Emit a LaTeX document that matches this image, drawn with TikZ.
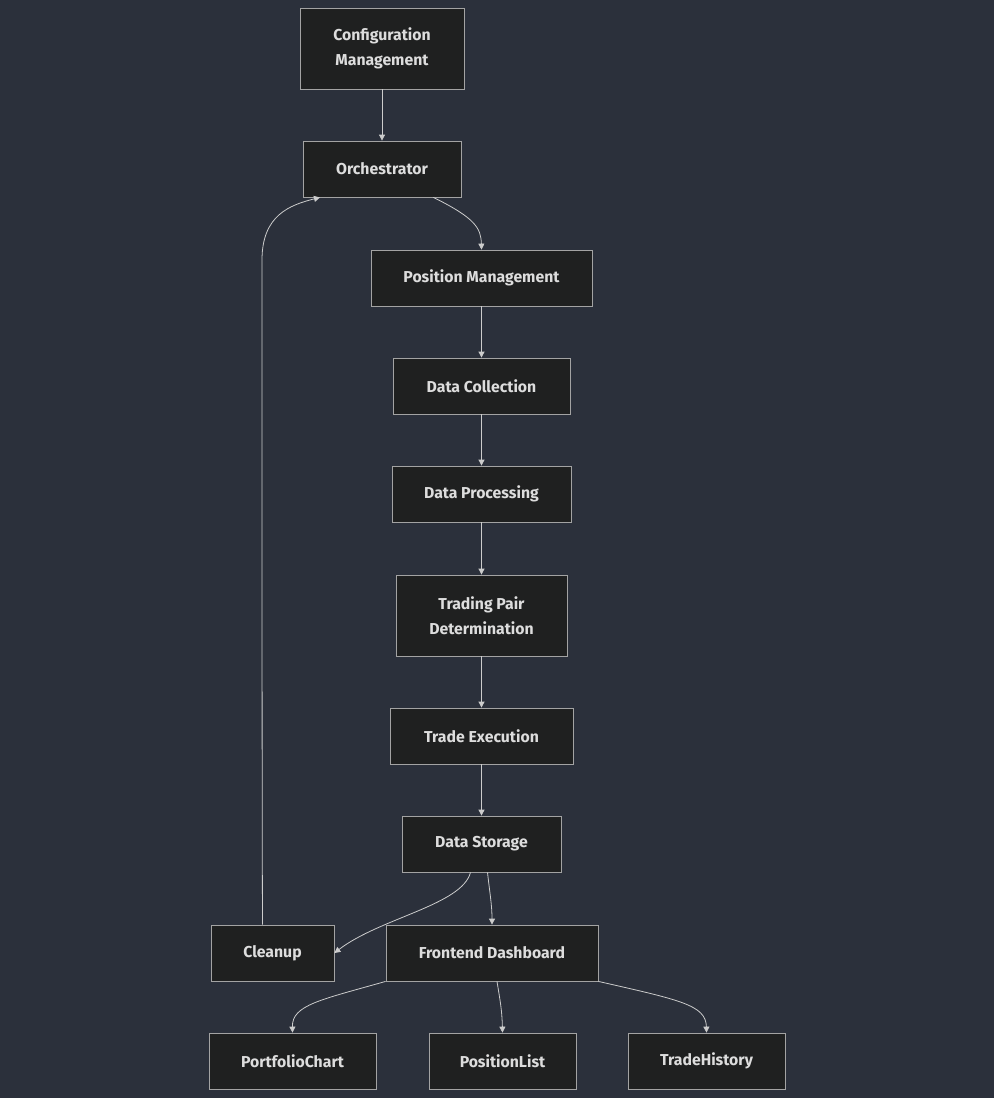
\documentclass[tikz,border=0pt]{standalone}
\usepackage{fontspec}
\setmainfont{Fira Sans}
\usetikzlibrary{arrows.meta}
\definecolor{bg}{HTML}{2B303B}
\definecolor{nodefill}{HTML}{1F2020}
\definecolor{edge}{HTML}{CCCCCC}
\definecolor{txt}{HTML}{DDDDDD}
\tikzset{
  box/.style={draw=edge!80!black, fill=nodefill, line width=0.8pt, text=txt, font=\fontsize{15.8}{25}\selectfont\bfseries, align=center, inner sep=0pt, anchor=center},
  link/.style={draw=edge, line width=0.8pt, -{Triangle[length=6pt,width=6pt]}}
}
\begin{document}
\begin{tikzpicture}[x=1pt,y=-1pt]
\fill[bg] (0,0) rectangle (994,1098);
\useasboundingbox (0,0) rectangle (994,1098);
\node[box, minimum width=164pt, minimum height=81pt] (cfg) at (382,48.5) {Configuration\\Management};
\node[box, minimum width=158pt, minimum height=56pt] (orc) at (382,169) {Orchestrator};
\node[box, minimum width=221pt, minimum height=56pt] (pm) at (481.5,278) {Position Management};
\node[box, minimum width=177pt, minimum height=56pt] (dc) at (481.5,386) {Data Collection};
\node[box, minimum width=179pt, minimum height=56pt] (dp) at (481.5,494) {Data Processing};
\node[box, minimum width=171pt, minimum height=81pt] (tp) at (481.5,615.5) {Trading Pair\\Determination};
\node[box, minimum width=183pt, minimum height=56pt] (te) at (481.5,736) {Trade Execution};
\node[box, minimum width=159pt, minimum height=56pt] (ds) at (481.5,844) {Data Storage};
\node[box, minimum width=123pt, minimum height=56pt] (cl) at (272.5,953) {Cleanup};
\node[box, minimum width=212pt, minimum height=56pt] (fd) at (492,953) {Frontend Dashboard};
\node[box, minimum width=167pt, minimum height=56pt] (pc) at (292.5,1061) {PortfolioChart};
\node[box, minimum width=147pt, minimum height=56pt] (pl) at (502.5,1061) {PositionList};
\node[box, minimum width=157pt, minimum height=56pt] (th) at (706.5,1061) {TradeHistory};

\draw[link] (cfg) -- (orc);
\draw[link] (orc.south east) ++(-28,0) .. controls (475,218) and (481,228) .. (pm.north);
\draw[link] (pm) -- (dc);
\draw[link] (dc) -- (dp);
\draw[link] (dp) -- (tp);
\draw[link] (tp) -- (te);
\draw[link] (te) -- (ds);
\draw[link] (ds.south) ++(-11,0) .. controls (462,905) and (380,918) .. (cl.east);
\draw[link] (ds.south) ++(6,0) .. controls (490,895) and (492,905) .. (fd.north);
\draw[link] (cl.north) ++(-10,0) .. controls (262,800) and (262,500) .. (262,260) .. controls (262,215) and (290,205) .. ([xshift=-62pt]orc.south);
\draw[link] (fd.south west) .. controls (320,1000) and (292,1005) .. (pc.north);
\draw[link] (fd.south) ++(5,0) .. controls (500,1000) and (502,1010) .. (pl.north);
\draw[link] (fd.south east) .. controls (680,1000) and (706,1005) .. (th.north);
\end{tikzpicture}
\end{document}
